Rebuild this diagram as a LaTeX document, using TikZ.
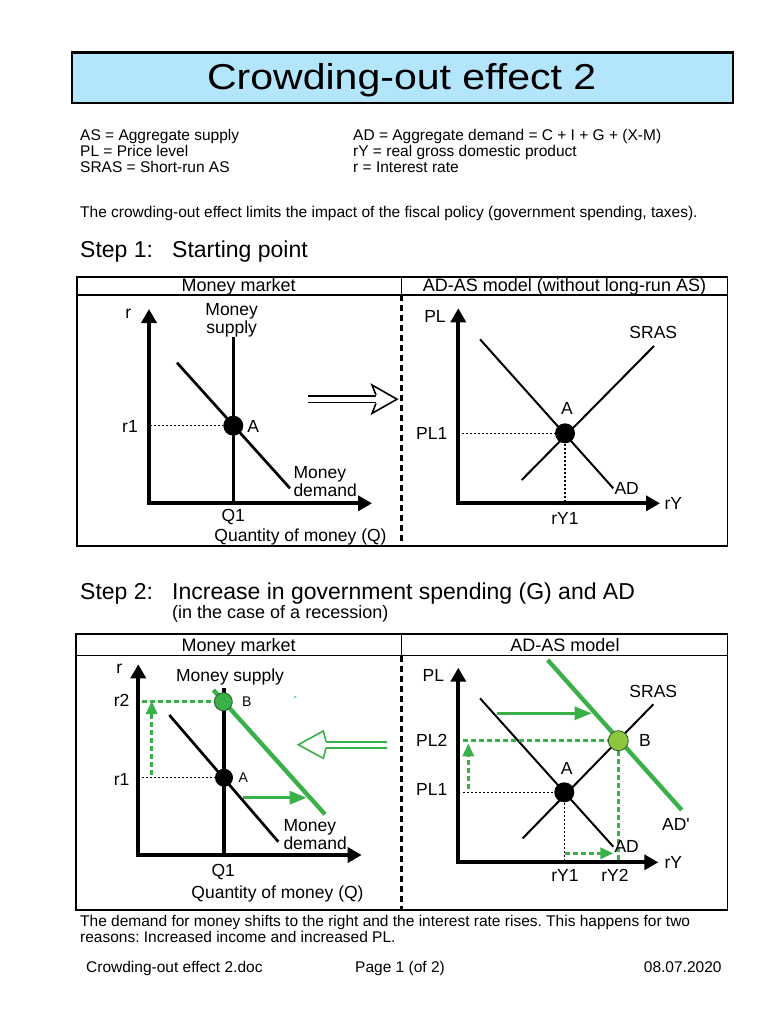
\documentclass[tikz,border=0pt]{standalone}
\usepackage{fontspec}
\setmainfont{Liberation Sans}[Ligatures=TeXOff]
\usetikzlibrary{arrows.meta}
\definecolor{titleblue}{RGB}{179,229,252}
\definecolor{grn}{RGB}{58,176,72}
\definecolor{ltgrn}{RGB}{141,198,63}
\definecolor{dkgrn}{RGB}{40,90,40}
\newcommand{\setfz}[1]{\fontsize{#1}{#1}\selectfont}
\frenchspacing
\begin{document}
\begin{tikzpicture}[x=1pt,y=-1pt,
  txt/.style={inner sep=0, anchor=base west, font=\setfz{15.5}},
  hdr/.style={inner sep=0, anchor=base, font=\setfz{18}},
  lbl/.style={inner sep=0, font=\setfz{17.5}},
  lblb/.style={inner sep=0, anchor=base, font=\setfz{17.5}},
  lblw/.style={inner sep=0, anchor=base west, font=\setfz{17.5}},
  small/.style={inner sep=0, font=\setfz{14}},
  frame/.style={line width=1.3pt},
  divider/.style={line width=2.7pt, dash pattern=on 6pt off 4pt},
  axes/.style={line width=3.8pt, line join=miter, {Triangle[length=14pt,width=15pt]}-{Triangle[length=14pt,width=15pt]}},
  supply/.style={line width=3.4pt},
  bline/.style={line width=2.7pt},
  tline/.style={line width=2pt},
  gline/.style={line width=4.3pt, draw=grn},
  dotl/.style={line width=1.3pt, dash pattern=on 2pt off 2pt},
  gdash/.style={line width=3pt, draw=grn, dash pattern=on 5pt off 3pt},
  gdarrow/.style={gdash, -{Triangle[length=13pt,width=11pt]}},
  garrow/.style={line width=2.7pt, draw=grn, -{Triangle[length=17pt,width=13pt]}},
  eqpt/.style={circle, fill=black, minimum size=20pt, inner sep=0},
  eqpts/.style={circle, fill=black, minimum size=18pt, inner sep=0},
]
\useasboundingbox[fill=white] (0,0) rectangle (768,1024);

% ---------- title ----------
\node[draw, line width=2.6pt, fill=titleblue, minimum width=661pt, minimum height=50.3pt, inner sep=0] (titlebox) at (402.5,77.8) {};
\node[anchor=base, inner sep=0, font=\setfz{36}] (title) at (401.7,90) {\scalebox{1.14}[1]{Crowding-out effect 2}};

% ---------- legend ----------
\node[txt] (l1) at (80,141) {AS = Aggregate supply};
\node[txt] (l2) at (80,156.5) {PL = Price level};
\node[txt] (l3) at (80,173) {SRAS = Short-run AS};
\node[txt] (r1l) at (353,141) {AD = Aggregate demand = C + I + G + (X-M)};
\node[txt] (r2l) at (353,156.5) {rY = real gross domestic product};
\node[txt] (r3l) at (353,173) {r = Interest rate};
\node[txt] (intro) at (80,218) {The crowding-out effect limits the impact of the fiscal policy (government spending, taxes).};

\node[inner sep=0, anchor=base west, font=\setfz{23}] (step1) at (80,258) {\makebox[92pt][l]{Step 1:}Starting point};
\node[inner sep=0, anchor=base west, font=\setfz{23}] (step2) at (80,599) {\makebox[92pt][l]{Step 2:}Increase in government spending (G) and AD};
\node[inner sep=0, anchor=base west, font=\setfz{18}] (step2b) at (172,618.5) {(in the case of a recession)};

% ---------- step 1 frame ----------
\draw[frame] (77,277) rectangle (727.5,546);
\draw[frame] (77,295) -- (727.5,295);
\draw[frame] (401.7,277) -- (401.7,295);
\draw[divider] (401.7,295) -- (401.7,546);
\node[hdr] (h1a) at (238.7,291.5) {Money market};
\node[hdr] (h1b) at (564.5,291.5) {AD-AS model (without long-run AS)};

% ---------- step 1 money market ----------
\coordinate (O1) at (149,503.3);
\coordinate (Y1) at (149,309);
\coordinate (X1) at (372,503.3);
\draw[axes] (Y1) -- (O1) -- (X1);
\coordinate (MS1t) at (233.3,337);
\coordinate (MS1b) at (233.3,503.3);
\draw[supply] (MS1t) -- (MS1b);
\coordinate (MD1a) at (177,362.7);
\coordinate (MD1b) at (290,488.3);
\draw[bline] (MD1a) -- (MD1b);
\coordinate (r1ax) at (150,425.7);
\node[eqpt] (A1) at (233.3,425.7) {};
\draw[dotl] (r1ax) -- (A1);
\node[lbl] (rlab1) at (128.3,313.3) {r};
\node[lbl] (r1lab) at (130,426) {r1};
\node[lbl] (A1lab) at (253.3,426.7) {A};
\node[lblb] (ms1a) at (231.7,315.6) {Money};
\node[lblb] (ms1b) at (231.7,333.6) {supply};
\node[lblw] (md1a) at (293.3,478) {Money};
\node[lblw] (md1b) at (293.3,496) {demand};
\node[lbl] (Q1lab) at (233.3,516.7) {Q1};
\node[lblb] (qm1) at (300.5,541.3) {Quantity of money (Q)};

% double arrow to the right
\coordinate (DA1s) at (308.3,399.2);
\coordinate (DA1e) at (376,399.2);
\draw[double, double distance=5.3pt, line width=1.6pt] (DA1s) -- (DA1e);
\draw[line width=1.6pt, line join=miter] (376,395) -- (372,385) -- (397,399.2) -- (372,413.4) -- (376,403.4);

% ---------- step 1 AD-AS ----------
\coordinate (O2) at (458.3,503.3);
\coordinate (Y2) at (458.3,308.3);
\coordinate (X2) at (660,503.3);
\draw[axes] (Y2) -- (O2) -- (X2);
\coordinate (AD2a) at (480,339.3);
\coordinate (AD2b) at (613.3,488.3);
\coordinate (AS2a) at (521.7,480);
\coordinate (AS2b) at (654,346);
\draw[tline] (AD2a) -- (AD2b);
\draw[tline] (AS2a) -- (AS2b);
\node[eqpt] (A2) at (565,433.3) {};
\coordinate (pl1ax) at (462,433.3);
\coordinate (ry1ax) at (565,500);
\draw[dotl] (pl1ax) -- (A2);
\draw[dotl] (A2) -- (ry1ax);
\node[lbl] (PLlab2) at (435,316.7) {PL};
\node[lbl] (A2lab) at (567,408) {A};
\node[lbl] (SRASlab2) at (653.3,332.3) {SRAS};
\node[lbl] (ADlab2) at (626.7,488.3) {AD};
\node[lbl] (rYlab2) at (673.3,503.3) {rY};
\node[lbl] (PL1lab2) at (431.7,433.3) {PL1};
\node[lbl] (rY1lab2) at (565,518.3) {rY1};

% ---------- step 2 frame ----------
\draw[frame] (76,634) rectangle (727.7,910);
\draw[frame] (76,655.7) -- (727.7,655.7);
\draw[frame] (401.7,634) -- (401.7,655.7);
\draw[divider] (401.7,655.7) -- (401.7,910);
\node[hdr] (h2a) at (238.7,651.3) {Money market};
\node[hdr] (h2b) at (565,651.3) {AD-AS model};

% ---------- step 2 money market ----------
\coordinate (O3) at (138.3,855);
\coordinate (Y3) at (138.3,664.3);
\coordinate (X3) at (361.7,855);
\draw[axes] (Y3) -- (O3) -- (X3);
\coordinate (MS3t) at (224,688.3);
\coordinate (MS3b) at (224,855);
\draw[supply] (MS3t) -- (MS3b);
\coordinate (MD3a) at (169.3,715);
\coordinate (MD3b) at (278.3,841.7);
\draw[bline] (MD3a) -- (MD3b);
\coordinate (MD3ga) at (213.3,690);
\coordinate (MD3gb) at (325,814.3);
\draw[gline] (MD3ga) -- (MD3gb);
\node[eqpts] (A3) at (224,777.7) {};
\node[circle, fill=grn, draw=dkgrn, line width=0.8pt, minimum size=18pt, inner sep=0] (B3) at (223.3,701.7) {};
\coordinate (r2ax) at (142,701.7);
\coordinate (r1ax3) at (142,777.7);
\draw[gdash] (r2ax) -- (B3);
\draw[dotl] (r1ax3) -- (A3);
\coordinate (gv3s) at (151.7,775);
\coordinate (gv3e) at (151.7,701);
\draw[gdarrow] (gv3s) -- (gv3e);
\coordinate (ga3s) at (243.3,797.7);
\coordinate (ga3e) at (306.7,797.7);
\draw[garrow] (ga3s) -- (ga3e);
\node[lbl] (rlab3) at (119.3,668.3) {r};
\node[lbl] (r2lab3) at (121.7,700) {r2};
\node[lbl] (r1lab3) at (121.7,779) {r1};
\node[small] (Blab3) at (246.7,702) {B};
\node[small] (Alab3) at (243.3,778) {A};
\node[lblb] (ms3) at (230,681.3) {Money supply};
\node[lblw] (md3a) at (283.3,831.3) {Money};
\node[lblw] (md3b) at (283.3,849.3) {demand};
\node[lbl] (Q1lab3) at (223.3,871.7) {Q1};
\node[lblb] (qm3) at (277.5,898) {Quantity of money (Q)};
\coordinate (tick1) at (294.3,697.3);
\coordinate (tick2) at (296.3,696.5);
\draw[grn, line width=1pt] (tick1) -- (tick2);

% hollow green arrow to the left
\coordinate (DA3s) at (386.7,744.7);
\coordinate (DA3e) at (326,744.7);
\draw[double=white, double distance=4.4pt, line width=1.6pt, draw=grn] (DA3s) -- (DA3e);
\draw[grn, line width=1.6pt, line join=miter] (326,741.4) -- (323.3,731) -- (298.3,744.7) -- (323.3,758.3) -- (326,748);

% ---------- step 2 AD-AS ----------
\coordinate (O4) at (458.3,862.3);
\coordinate (Y4) at (458.3,667.7);
\coordinate (X4) at (658.3,862.3);
\draw[axes] (Y4) -- (O4) -- (X4);
\coordinate (AD4a) at (480,698.3);
\coordinate (AD4b) at (613.3,846.7);
\coordinate (AS4a) at (522.7,838.3);
\coordinate (AS4b) at (653.3,704.3);
\draw[tline] (AD4a) -- (AD4b);
\draw[tline] (AS4a) -- (AS4b);
\coordinate (ADpa) at (547.7,660);
\coordinate (ADpb) at (681.7,810);
\draw[gline] (ADpa) -- (ADpb);
\coordinate (ga4s) at (496.7,713.3);
\coordinate (ga4e) at (591.7,713.3);
\draw[garrow] (ga4s) -- (ga4e);
\node[eqpt] (A4) at (564.3,792.3) {};
\node[circle, fill=ltgrn, draw=dkgrn, line width=0.8pt, minimum size=20pt, inner sep=0] (B4) at (618.3,740.7) {};
\coordinate (pl2ax) at (463,740.7);
\coordinate (ry2ax) at (618.3,862);
\coordinate (pl1ax4) at (463,792.3);
\coordinate (ry1ax4) at (564.3,862);
\draw[gdash] (pl2ax) -- (B4);
\draw[gdash] (B4) -- (ry2ax);
\draw[dotl] (pl1ax4) -- (A4);
\draw[dotl] (A4) -- (ry1ax4);
\coordinate (gv4s) at (468.3,789);
\coordinate (gv4e) at (468.3,743.3);
\draw[gdarrow] (gv4s) -- (gv4e);
\coordinate (gh4s) at (565,853.3);
\coordinate (gh4e) at (613.3,853.3);
\draw[gdarrow] (gh4s) -- (gh4e);
\node[lbl] (PLlab4) at (433.3,675) {PL};
\node[lbl] (PL2lab4) at (431.7,740.7) {PL2};
\node[lbl] (PL1lab4) at (431.7,789) {PL1};
\node[lbl] (A4lab) at (566.7,768.3) {A};
\node[lbl] (B4lab) at (645,740.7) {B};
\node[lbl] (SRASlab4) at (653.3,691.7) {SRAS};
\node[lbl] (ADplab4) at (676,824.3) {AD'};
\node[lbl] (ADlab4) at (626.7,846.7) {AD};
\node[lbl] (rYlab4) at (673.3,862.3) {rY};
\node[lbl] (rY1lab4) at (565,875) {rY1};
\node[lbl] (rY2lab4) at (615,875) {rY2};

% ---------- footer ----------
\node[txt] (f1) at (80,926.3) {The demand for money shifts to the right and the interest rate rises. This happens for two};
\node[txt] (f2) at (80,942.3) {reasons: Increased income and increased PL.};
\node[txt] (f3) at (86,972.5) {Crowding-out effect 2.doc};
\node[inner sep=0, anchor=base, font=\setfz{15.5}] (f4) at (400,972.5) {Page 1 (of 2)};
\node[inner sep=0, anchor=base east, font=\setfz{15.5}] (f5) at (721.7,972.5) {08.07.2020};
\end{tikzpicture}
\end{document}
